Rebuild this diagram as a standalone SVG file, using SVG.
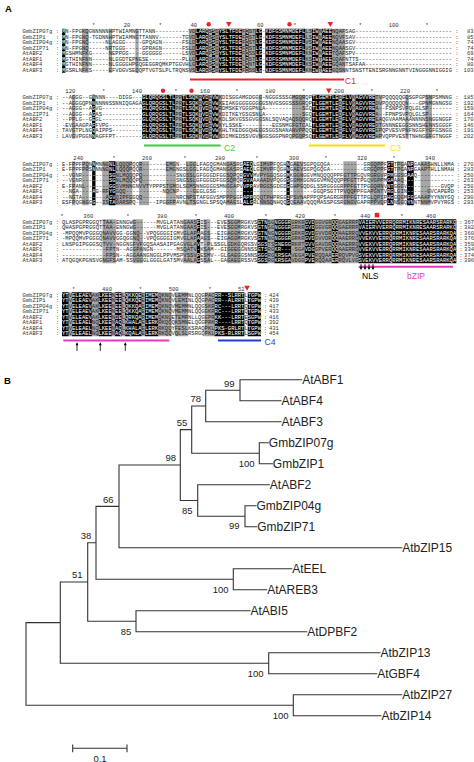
<svg xmlns="http://www.w3.org/2000/svg" xmlns:xlink="http://www.w3.org/1999/xlink" width="474" height="762" viewBox="0 0 474 762">
<style>
.nm{font-family:"Liberation Mono","DejaVu Sans Mono",monospace;font-size:5.5px;fill:#333}
.sq{font-family:"Liberation Mono","DejaVu Sans Mono",monospace;font-size:5.5px}
.rl{font-family:"Liberation Mono","DejaVu Sans Mono",monospace;font-size:5.5px;fill:#333;text-anchor:middle}
.ne{font-family:"Liberation Mono","DejaVu Sans Mono",monospace;font-size:5.5px;fill:#333;text-anchor:end}
.g{fill:#a6a6a6}
.pl{font-family:"Liberation Sans",Arial,sans-serif;font-size:9.5px;font-weight:bold;fill:#000}
.an{font-family:"Liberation Sans",Arial,sans-serif;font-size:8.5px}
.lf{font-family:"Liberation Sans",Arial,sans-serif;font-size:12px;fill:#222}
.bs{font-family:"Liberation Sans",Arial,sans-serif;font-size:9.5px;fill:#222;text-anchor:middle}
.br{fill:none;stroke:#333;stroke-width:1.1;stroke-linecap:square}
.red{fill:#e8262a}
</style>
<defs>
<path id="k1" d="M62 28.75h3.33v44h-3.33z M195.33 28.75h13.33v44h-13.33z M212 28.75h3.33v44h-3.33z M218.67 28.75h23.33v44h-23.33z M245.33 28.75h3.33v44h-3.33z M255.33 28.75h6.67v44h-6.67z M265.33 28.75h40v44h-40z M312 28.75h6.67v44h-6.67z M322 28.75h10v44h-10z"/>
<path id="k2" d="M92 94.75h3.33v44h-3.33z M142 94.75h33.33v44h-33.33z M182 94.75h16.67v44h-16.67z M202 94.75h6.67v44h-6.67z M212 94.75h6.67v44h-6.67z M312 94.75h26.67v44h-26.67z M342 94.75h10v44h-10z M355.33 94.75h20v44h-20z"/>
<path id="k3" d="M92.15 161.25h3.35v44h-3.35z M108.9 161.25h6.7v44h-6.7z M242.9 161.25h10.05v44h-10.05z M286.45 161.25h3.35v44h-3.35z M386.95 161.25h6.7v44h-6.7z M407.05 161.25h6.7v44h-6.7z"/>
<path id="k4" d="M196.8 219.25h3.37v44h-3.37z M257.46 219.25h10.11v44h-10.11z M274.31 219.25h16.85v44h-16.85z M304.64 219.25h10.11v44h-10.11z M331.6 219.25h6.74v44h-6.74z M358.56 219.25h97.73v44h-97.73z"/>
<path id="k5" d="M62 292.25h6.63v44h-6.63z M71.95 292.25h19.9v44h-19.9z M98.49 292.25h13.27v44h-13.27z M115.07 292.25h6.63v44h-6.63z M125.02 292.25h16.59v44h-16.59z M144.93 292.25h13.27v44h-13.27z M214.58 292.25h29.85v44h-29.85z M247.75 292.25h13.27v44h-13.27z"/>
<clipPath id="c1"><use xlink:href="#k1"/></clipPath>
<clipPath id="c2"><use xlink:href="#k2"/></clipPath>
<clipPath id="c3"><use xlink:href="#k3"/></clipPath>
<clipPath id="c4"><use xlink:href="#k4"/></clipPath>
<clipPath id="c5"><use xlink:href="#k5"/></clipPath>
<g id="t1" class="sq">
<text x="62" y="33.4" textLength="390" lengthAdjust="spacing">MN-FPGKQGNNNNNHPTWIAMNGTTANN----------VDLARQSSIYSLTFDEFQSTLG-KDFGSMNMDEFLLSIWNAEENQAFSAG-----------------------------</text>
<text x="62" y="38.9" textLength="390" lengthAdjust="spacing">MN-FPGNQ-TGDNNHPTWIAMNGTTANNV-------TGVDLARQSSIYSLTFDEFQSTLG-KDFGSMNMDEFLLSIWNAEENQVFSAV-----------------------------</text>
<text x="62" y="44.4" textLength="390" lengthAdjust="spacing">MN-FPGNQ-----NLAGGG-----GPQAGN------FSLDLARQSSIYSLTFDEFQSTLG-KDFGSMNMDEFLVSIWNAEENQAASGV-----------------------------</text>
<text x="62" y="49.9" textLength="390" lengthAdjust="spacing">MN-FPGNQ-----NRTGGG-----GPRAGN------FSLDLARQSSIYSLTFDEFQSTLG-KDFGSMNMDEFLVSIWNAEENQAASGV-----------------------------</text>
<text x="62" y="55.4" textLength="390" lengthAdjust="spacing">MGSHMNFKG-----NEPPGG----GGGGGG------LSVDLARQPSIYSLTFDEFQSSLG-KDFGSMNMDEFLKNIWNAEETQAFSPV-----------------------------</text>
<text x="62" y="60.9" textLength="390" lengthAdjust="spacing">MGTHINFNN-----NLGGDTEPNESE----------PLLGLARQSSVYSLTFDELQSTLG-KDFGSMNMDEFLKSIWTAEEGQAFNTTS----------------------------</text>
<text x="62" y="66.4" textLength="390" lengthAdjust="spacing">MGTHINFNN-----NLGGGGHPGQGEGGRQMKPTGGVHLGLARQSSVYSLTFDELQNTLG-KDFGSMNMDEFLKSIWNAEEGQANTSAFAA--------------------------</text>
<text x="62" y="71.9" textLength="390" lengthAdjust="spacing">MGSRLNFKS-----EFVDGVSEQQPTVGTSLPLTRQNSVSLARQSSIYSLTFDEFQSSLG-KDFGSMNMDEFLKNIWTAEEGQSNNTSNSTTENISRGNNGNNTVINGGGNNIGGIG</text>
</g>
<g id="t2" class="sq">
<text x="62" y="99.4" textLength="390" lengthAdjust="spacing">--AGGG--GNNNN----DIGG---GLQRQGSLTLPRTLSQKRVDEVWKDISGGAMGDGGG-NGGGSSSGMGQRQPTLGEMTLEDFLVKAGVVRETVPQQQQQGQSGPGPSNPSMNNG</text>
<text x="62" y="104.9" textLength="390" lengthAdjust="spacing">--AGGGQPNNNNNNSSNNIQGAGAGLQRQGSLTLPRTLSQKRVDEVWKEIAKGGGGGGGGGSNVGSGGSSSGRQPTLGEMTLEDFLVKAGVVREDVPQQQQQQN---GPNMGNNGSG</text>
<text x="62" y="110.4" textLength="390" lengthAdjust="spacing">--AGGG--AGVG------------GLQRQGSLTLPRTLSQKTVDEVWRDMSKEYGGGPNLA-----------SGQTLGEMTLEDFLVKAGVVREA--FSNPSVPQLGLSP-------</text>
<text x="62" y="115.9" textLength="390" lengthAdjust="spacing">--AGGG--AGAS------------GLQRQGSLTLPRTLSQKTVDEVWKDITKEYGSGSNLA-----------SGQTLGEMTLEDFLVKAGVVREA--FPNPSVPQLGLSP-------</text>
<text x="62" y="121.4" textLength="390" lengthAdjust="spacing">--PPLG--GEGL------------GLQRQGSLTLPRTLSQKTVDQVWKDLSKVGSSGVGGSNLSQVAQAQSQQRQTLGEMTLEEFLVRAGVVREEAQGVAAMAAANNNNSNGGNGGF</text>
<text x="62" y="126.9" textLength="390" lengthAdjust="spacing">-EVGAAGPAFFVPG----------GLQRQGSLTLPRTLSQKTVDEVWKYLSSKE---------EGSNMGFGTCALTLGEMTLEEFLVRAGVVREDTGNNNEEGGSNNSHENNSGGGF</text>
<text x="62" y="132.4" textLength="390" lengthAdjust="spacing">TAVGTPLNGQAIPPS---------GLQRQGSLTLPRTLSQKTVDEVWKHLTKEDGGQHEGGSGGSNANANVPPQQTLGEMTLEEFLVRAGVVREEPQPVESVPNFNGGFYGFGSNGG</text>
<text x="62" y="137.9" textLength="390" lengthAdjust="spacing">LAVGVPGGNNAGFFPT--------GLQRQGSLTLPRTLSQKTVDEVWKDIMKEDSSVGVNGGSGGPNRQPGQPSQTLGEMTLEDFLVKAGVVREHPVQPPVESTTNHNGGFGTNGGF</text>
</g>
<g id="t3" class="sq">
<text x="62" y="165.9" textLength="392" lengthAdjust="spacing">E-FPPFPQNNMNNGNLLQQQPQQR-------EMGN--LGGLFAGQGMANGASRGAEQLGIMVPFQGHNGAEVSGPQGQGA----------GRGQPPFGTTPGANPGAAASHNLLNMA</text>
<text x="62" y="171.4" textLength="392" lengthAdjust="spacing">E-FPPFPRSNNNNGNLLQQQPQQR-------EMGNGSLGGLFAGQGMANGASRGAEQLGIMVPFQGHNGAEVSGPQGQGA----------GRGQPPFGTTPGANPGAAPTHLLNMAH</text>
<text x="62" y="176.9" textLength="392" lengthAdjust="spacing">--VGNR--------SGNLMQQQPQ----------SNGSSLGFGGGDFGGSQPQRGVVMVPYGGQSGGMKGGNGGVMNQQQQPPFGTTPGQVRGRGVPPMGGSGAAQ-----------</text>
<text x="62" y="182.4" textLength="392" lengthAdjust="spacing">--VGNR--------SGNLMQQQPQ----------SNGSSLGFGGGDFGGSQPQRGVAAAAADVPQGGSGGMKGGNGGVMNQQQPPFGTTPGQVGPPMGAAAQ---------------</text>
<text x="62" y="187.9" textLength="392" lengthAdjust="spacing">E-FPANL-------GGSVMNNGNVVTYPPPSTGMDLSGMSNNGGGGSMNGGAPVVPPAVRGGSGDGDGGHPGQDGLSSRGGGGRPPFGTTPGGQRNVNTGGGV----------GVQP</text>
<text x="62" y="193.4" textLength="392" lengthAdjust="spacing">--NGA----AG-RFYGGQQ-----------NQCNP----GEGLGSG-----------------------------GGQPSGTTPVQQPPFGAPGNTVRGLGIN------GVCAPERD</text>
<text x="62" y="198.9" textLength="392" lengthAdjust="spacing">--NGTA-------AGVQIPFGGQQ----------NRCNPSTAFGGVSMPPPGGFAPPQQQTPHPRGGIPSVNAPPPQPSAGRGRPPFGTTPGLQPIPHGGQGMFGGAAAPYYNNYGQ</text>
<text x="62" y="204.4" textLength="392" lengthAdjust="spacing">ESFPQGNGGG--ISTADARSPQ------IPGGFPAVNLTSGNGLSPSQAMAGSLALGRLNNSQNHQQGQEAAVQQQMASSPGSRGNGVGAPRPPVQPLNNSGQYNNTNNMVPVYRGS</text>
</g>
<g id="t4" class="sq">
<text x="62" y="223.9" textLength="394.3" lengthAdjust="spacing">QLASPGPRGGQTTAA-ENNGWG------MVGLATANGAASFIS---EVESGGMRGKVSGTNSGNGGGRGRKRGVDGGVGRQQGAERRPVAIERVVERRQRRMIKNRESAARSRARKQ</text>
<text x="62" y="229.4" textLength="394.3" lengthAdjust="spacing">QHASPGPRGGQTTAA-ENNGWG------MVGLATANGAASFIS---EVESGGMRGKVSGTNSGNGGGRGRKRGVDGGVGRQQGAERRPVAIERVVERRQRRMIKNRESAARSRARKQ</text>
<text x="62" y="234.9" textLength="394.3" lengthAdjust="spacing">-MPQQMVPGGGQNAVVGG-GGNQ--VPQGGGGIGMVGLAPAAGS--EIGAGGMRGKVSGTNNGNGGGRGRKRGVDGVVDRQQAAERRQVVEKVVERRQRRMIKNRESAARSRARKQA</text>
<text x="62" y="240.4" textLength="394.3" lengthAdjust="spacing">-MPQQMVPGGGQNAVVGGQGGNQ--VPQGGGGIGMVGLAPAAGS--EIGAGGMRGKVSGTNNGNGGGRGRKRGVDGVVDRQQAAERRQVVEKVVERRQRRMIKNRESAARSRARKQA</text>
<text x="62" y="245.9" textLength="394.3" lengthAdjust="spacing">LNSPGIPGGGSQTVV-NGGNGFVFGQSAASAIPGAGVGLAVT-PLSSGLGDKGQRGSVSGSTSGNEGGRKRTGVVGAVDRQQAAERRQVVEKVVERRQRRMIKNRESAARSRARKQA</text>
<text x="62" y="251.4" textLength="394.3" lengthAdjust="spacing">-------------FPTN--AGGPANGN-------MSQATV-KSAM--GIGGEGGNNSSGTSRGKR----SGAVDGGPVERQQAAERRQVVEKVVERRQRRMIKNRESAARSRARKQA</text>
<text x="62" y="256.9" textLength="394.3" lengthAdjust="spacing">-------------FPSN--AGGAANGNGGLPPVMSPVSSVPESMV--GLGAEGGSNNSSGGRGKRSGAVEGAPVERQQAAERRQVPVGSVEKVVERRQRRMIKNRESAARSRARKQA</text>
<text x="62" y="262.4" textLength="394.3" lengthAdjust="spacing">ATQGQKPGNSVGNGFSAM-SSVGGGLGGGLGATSMVAALAGSSAL--GAGAEGRSSVSSGSRGKRSGAVDGGPVERQQAAERRQVLVGSVEKVVERRQRRMIKNRESAARSRARKQA</text>
</g>
<g id="t5" class="sq">
<text x="62" y="296.9" textLength="199" lengthAdjust="spacing">YTVELEAEVAKLKEENEELQKKQEEIMEMQKNQVLEMMNLQQGPACRR--SLRRTLTGPW</text>
<text x="62" y="302.4" textLength="199" lengthAdjust="spacing">YTVELEAEVAKLKEENEELQKKQEEIMEMQKNQVLEMINLQQGPACRR--ALRRTLTGPW</text>
<text x="62" y="307.9" textLength="199" lengthAdjust="spacing">YTVELEAEVAKLKEENEELQKKQAEIMEMQKNQVMEMMNLQQGSKRRC---LRRTQTGPW</text>
<text x="62" y="313.4" textLength="199" lengthAdjust="spacing">YTVELEAEVAKLKEENEELQKKQAEIMEMQKNQVMEMMNLQQGGKRRC---LRRTQTGPW</text>
<text x="62" y="318.9" textLength="199" lengthAdjust="spacing">YTVELEAEVAKLKEENDELQRKQARIMEMQKNQETEMRNLLQGGPRKK---LRRTESGPW</text>
<text x="62" y="324.4" textLength="199" lengthAdjust="spacing">YTVELEAELNQLKEENAQLKHALAELERKRKQQQKSMNELQGGPRKR----LRRTQTGPW</text>
<text x="62" y="329.9" textLength="199" lengthAdjust="spacing">YTVELEAELNQLKEENAQLKHALAELERKRKQQYFESLKSRAQPKLPKS-GRLRTLTGPW</text>
<text x="62" y="335.4" textLength="199" lengthAdjust="spacing">YTVELEAELNQLKEENAQLKQALAELERKRKQQVQLSLRSRGQPKLPKS-RLRRTLSGPW</text>
</g>
</defs>

<rect width="474" height="762" fill="#fff"/>

<g id="panel-A">
<text class="pl" x="5" y="11.8">A</text>

<g id="block1">
<path class="g" d="M82 28.75h6.67v44h-6.67z M108.67 28.75h3.33v44h-3.33z M135.33 28.75h3.33v44h-3.33z M188.67 28.75h6.67v44h-6.67z M208.67 28.75h3.33v44h-3.33z M215.33 28.75h3.33v44h-3.33z M242 28.75h3.33v44h-3.33z M248.67 28.75h6.67v44h-6.67z M305.33 28.75h6.67v44h-6.67z M318.67 28.75h3.33v44h-3.33z M332 28.75h13.33v44h-13.33z"/>
<use xlink:href="#k1" fill="#000"/>
<use xlink:href="#t1" fill="#1a1a1a"/>
<use xlink:href="#t1" fill="#fff" clip-path="url(#c1)"/>
<text class="rl" x="93.7" y="26.9">*</text><text class="rl" x="127" y="26.9">20</text><text class="rl" x="160.3" y="26.9">*</text><text class="rl" x="193.7" y="26.9">40</text><text class="rl" x="260.3" y="26.9">60</text><text class="rl" x="295" y="26.9">*</text><text class="rl" x="360.3" y="26.9">*</text><text class="rl" x="393.7" y="26.9">100</text><text class="rl" x="427" y="26.9">*</text>
<circle class="red" cx="208.7" cy="24.3" r="2.2"/>
<path class="red" d="M226 22h5.6l-2.8 5z"/>
<circle class="red" cx="289.5" cy="24.3" r="2.2"/>
<path class="red" d="M327.5 22h5.6l-2.8 5z"/>
<text class="nm" x="22.5" y="33.4">GmbZIP07g</text><text class="nm" x="22.5" y="38.9">GmbZIP1</text><text class="nm" x="22.5" y="44.4">GmbZIP04g</text><text class="nm" x="22.5" y="49.9">GmbZIP71</text><text class="nm" x="22.5" y="55.4">AtABF2</text><text class="nm" x="22.5" y="60.9">AtABF1</text><text class="nm" x="22.5" y="66.4">AtABF4</text><text class="nm" x="22.5" y="71.9">AtABF3</text>
<text class="rl" x="57.5" y="33.4">:</text><text class="rl" x="57.5" y="38.9">:</text><text class="rl" x="57.5" y="44.4">:</text><text class="rl" x="57.5" y="49.9">:</text><text class="rl" x="57.5" y="55.4">:</text><text class="rl" x="57.5" y="60.9">:</text><text class="rl" x="57.5" y="66.4">:</text><text class="rl" x="57.5" y="71.9">:</text>
<text class="rl" x="457" y="33.4">:</text><text class="rl" x="457" y="38.9">:</text><text class="rl" x="457" y="44.4">:</text><text class="rl" x="457" y="49.9">:</text><text class="rl" x="457" y="55.4">:</text><text class="rl" x="457" y="60.9">:</text><text class="rl" x="457" y="66.4">:</text><text class="rl" x="457" y="71.9">:</text>
<text class="ne" x="473.5" y="33.4">83</text><text class="ne" x="473.5" y="38.9">85</text><text class="ne" x="473.5" y="44.4">74</text><text class="ne" x="473.5" y="49.9">74</text><text class="ne" x="473.5" y="55.4">69</text><text class="ne" x="473.5" y="60.9">74</text><text class="ne" x="473.5" y="66.4">80</text><text class="ne" x="473.5" y="71.9">103</text>
<path d="M190 79.5H344" stroke="#e8262a" stroke-width="2"/>
<text class="an" x="345" y="84" fill="#e8262a">C1</text>
</g>

<g id="block2">
<path class="g" d="M72 94.75h3.33v44h-3.33z M175.33 94.75h6.67v44h-6.67z M198.67 94.75h3.33v44h-3.33z M208.67 94.75h3.33v44h-3.33z M218.67 94.75h3.33v44h-3.33z M258.67 94.75h3.33v44h-3.33z M292 94.75h13.33v44h-13.33z M338.67 94.75h3.33v44h-3.33z M352 94.75h3.33v44h-3.33z M375.33 94.75h6.67v44h-6.67z M405.33 94.75h3.33v44h-3.33z M425.33 94.75h6.67v44h-6.67z"/>
<use xlink:href="#k2" fill="#000"/>
<use xlink:href="#t2" fill="#1a1a1a"/>
<use xlink:href="#t2" fill="#fff" clip-path="url(#c2)"/>
<text class="rl" x="70.3" y="93.4">120</text><text class="rl" x="103.7" y="93.4">*</text><text class="rl" x="137" y="93.4">140</text><text class="rl" x="176" y="93.4">*</text><text class="rl" x="205" y="93.4">160</text><text class="rl" x="237" y="93.4">*</text><text class="rl" x="270.3" y="93.4">180</text><text class="rl" x="303.7" y="93.4">*</text><text class="rl" x="339" y="93.4">200</text><text class="rl" x="372" y="93.4">*</text><text class="rl" x="405" y="93.4">220</text><text class="rl" x="437" y="93.4">*</text>
<circle class="red" cx="163" cy="90.8" r="2.2"/>
<circle class="red" cx="191.5" cy="90.8" r="2.2"/>
<path class="red" d="M326 88.5h5.6l-2.8 5z"/>
<text class="nm" x="22.5" y="99.4">GmbZIP07g</text><text class="nm" x="22.5" y="104.9">GmbZIP1</text><text class="nm" x="22.5" y="110.4">GmbZIP04g</text><text class="nm" x="22.5" y="115.9">GmbZIP71</text><text class="nm" x="22.5" y="121.4">AtABF2</text><text class="nm" x="22.5" y="126.9">AtABF1</text><text class="nm" x="22.5" y="132.4">AtABF4</text><text class="nm" x="22.5" y="137.9">AtABF3</text>
<text class="rl" x="57.5" y="99.4">:</text><text class="rl" x="57.5" y="104.9">:</text><text class="rl" x="57.5" y="110.4">:</text><text class="rl" x="57.5" y="115.9">:</text><text class="rl" x="57.5" y="121.4">:</text><text class="rl" x="57.5" y="126.9">:</text><text class="rl" x="57.5" y="132.4">:</text><text class="rl" x="57.5" y="137.9">:</text>
<text class="rl" x="457" y="99.4">:</text><text class="rl" x="457" y="104.9">:</text><text class="rl" x="457" y="110.4">:</text><text class="rl" x="457" y="115.9">:</text><text class="rl" x="457" y="121.4">:</text><text class="rl" x="457" y="126.9">:</text><text class="rl" x="457" y="132.4">:</text><text class="rl" x="457" y="137.9">:</text>
<text class="ne" x="473.5" y="99.4">185</text><text class="ne" x="473.5" y="104.9">192</text><text class="ne" x="473.5" y="110.4">159</text><text class="ne" x="473.5" y="115.9">164</text><text class="ne" x="473.5" y="121.4">170</text><text class="ne" x="473.5" y="126.9">146</text><text class="ne" x="473.5" y="132.4">191</text><text class="ne" x="473.5" y="137.9">202</text>
<path d="M144 145.5H220.7" stroke="#3ccc3c" stroke-width="2"/>
<text class="an" x="224" y="150.5" fill="#3ccc3c">C2</text>
<path d="M308.7 145.5H385.3" stroke="#f2e40a" stroke-width="2"/>
<text class="an" x="390" y="150.5" fill="#f2e40a">C3</text>
</g>

<g id="block3">
<path class="g" d="M72.05 161.25h3.35v44h-3.35z M82.1 161.25h6.7v44h-6.7z M102.2 161.25h6.7v44h-6.7z M115.6 161.25h16.75v44h-16.75z M139.05 161.25h10.05v44h-10.05z M165.85 161.25h10.05v44h-10.05z M185.95 161.25h10.05v44h-10.05z M226.15 161.25h10.05v44h-10.05z M259.65 161.25h13.4v44h-13.4z M293.15 161.25h10.05v44h-10.05z M343.4 161.25h13.4v44h-13.4z M370.2 161.25h13.4v44h-13.4z M397 161.25h6.7v44h-6.7z M420.45 161.25h10.05v44h-10.05z"/>
<use xlink:href="#k3" fill="#000"/>
<use xlink:href="#t3" fill="#1a1a1a"/>
<use xlink:href="#t3" fill="#fff" clip-path="url(#c3)"/>
<text class="rl" x="78.3" y="159.9">240</text><text class="rl" x="114" y="159.9">*</text><text class="rl" x="147" y="159.9">260</text><text class="rl" x="185" y="159.9">*</text><text class="rl" x="220" y="159.9">280</text><text class="rl" x="257" y="159.9">*</text><text class="rl" x="294" y="159.9">300</text><text class="rl" x="326" y="159.9">*</text><text class="rl" x="362" y="159.9">320</text><text class="rl" x="394" y="159.9">*</text><text class="rl" x="430" y="159.9">340</text>
<text class="nm" x="22.5" y="165.9">GmbZIP07g</text><text class="nm" x="22.5" y="171.4">GmbZIP1</text><text class="nm" x="22.5" y="176.9">GmbZIP04g</text><text class="nm" x="22.5" y="182.4">GmbZIP71</text><text class="nm" x="22.5" y="187.9">AtABF2</text><text class="nm" x="22.5" y="193.4">AtABF1</text><text class="nm" x="22.5" y="198.9">AtABF4</text><text class="nm" x="22.5" y="204.4">AtABF3</text>
<text class="rl" x="57.5" y="165.9">:</text><text class="rl" x="57.5" y="171.4">:</text><text class="rl" x="57.5" y="176.9">:</text><text class="rl" x="57.5" y="182.4">:</text><text class="rl" x="57.5" y="187.9">:</text><text class="rl" x="57.5" y="193.4">:</text><text class="rl" x="57.5" y="198.9">:</text><text class="rl" x="57.5" y="204.4">:</text>
<text class="rl" x="458.5" y="165.9">:</text><text class="rl" x="458.5" y="171.4">:</text><text class="rl" x="458.5" y="176.9">:</text><text class="rl" x="458.5" y="182.4">:</text><text class="rl" x="458.5" y="187.9">:</text><text class="rl" x="458.5" y="193.4">:</text><text class="rl" x="458.5" y="198.9">:</text><text class="rl" x="458.5" y="204.4">:</text>
<text class="ne" x="473.5" y="165.9">270</text><text class="ne" x="473.5" y="171.4">283</text><text class="ne" x="473.5" y="176.9">250</text><text class="ne" x="473.5" y="182.4">263</text><text class="ne" x="473.5" y="187.9">250</text><text class="ne" x="473.5" y="193.4">253</text><text class="ne" x="473.5" y="198.9">290</text><text class="ne" x="473.5" y="204.4">293</text>
</g>

<g id="block4">
<path class="g" d="M102.44 219.25h13.48v44h-13.48z M132.77 219.25h10.11v44h-10.11z M183.32 219.25h13.48v44h-13.48z M203.54 219.25h6.74v44h-6.74z M227.13 219.25h13.48v44h-13.48z M267.57 219.25h6.74v44h-6.74z M291.16 219.25h13.48v44h-13.48z M314.75 219.25h16.85v44h-16.85z M338.34 219.25h20.22v44h-20.22z"/>
<use xlink:href="#k4" fill="#000"/>
<use xlink:href="#t4" fill="#1a1a1a"/>
<use xlink:href="#t4" fill="#fff" clip-path="url(#c4)"/>
<text class="rl" x="62" y="217.9">*</text><text class="rl" x="88.3" y="217.9">360</text><text class="rl" x="128" y="217.9">*</text><text class="rl" x="162" y="217.9">380</text><text class="rl" x="196" y="217.9">*</text><text class="rl" x="229" y="217.9">400</text><text class="rl" x="266" y="217.9">*</text><text class="rl" x="300" y="217.9">420</text><text class="rl" x="335" y="217.9">*</text><text class="rl" x="365.3" y="217.9">440</text><text class="rl" x="402" y="217.9">*</text><text class="rl" x="431" y="217.9">460</text>
<rect class="red" x="374.7" y="212.8" width="4.6" height="4.6"/>
<text class="nm" x="22.5" y="223.9">GmbZIP07g</text><text class="nm" x="22.5" y="229.4">GmbZIP1</text><text class="nm" x="22.5" y="234.9">GmbZIP04g</text><text class="nm" x="22.5" y="240.4">GmbZIP71</text><text class="nm" x="22.5" y="245.9">AtABF2</text><text class="nm" x="22.5" y="251.4">AtABF1</text><text class="nm" x="22.5" y="256.9">AtABF4</text><text class="nm" x="22.5" y="262.4">AtABF3</text>
<text class="rl" x="57.5" y="223.9">:</text><text class="rl" x="57.5" y="229.4">:</text><text class="rl" x="57.5" y="234.9">:</text><text class="rl" x="57.5" y="240.4">:</text><text class="rl" x="57.5" y="245.9">:</text><text class="rl" x="57.5" y="251.4">:</text><text class="rl" x="57.5" y="256.9">:</text><text class="rl" x="57.5" y="262.4">:</text>
<text class="rl" x="461" y="223.9">:</text><text class="rl" x="461" y="229.4">:</text><text class="rl" x="461" y="234.9">:</text><text class="rl" x="461" y="240.4">:</text><text class="rl" x="461" y="245.9">:</text><text class="rl" x="461" y="251.4">:</text><text class="rl" x="461" y="256.9">:</text><text class="rl" x="461" y="262.4">:</text>
<text class="ne" x="474" y="223.9">367</text><text class="ne" x="474" y="229.4">382</text><text class="ne" x="474" y="234.9">360</text><text class="ne" x="474" y="240.4">376</text><text class="ne" x="474" y="245.9">359</text><text class="ne" x="474" y="251.4">334</text><text class="ne" x="474" y="256.9">374</text><text class="ne" x="474" y="262.4">396</text>
<path d="M358.7 266.8H453" stroke="#e23cc0" stroke-width="2"/>
<path d="M361 264.3v3.3M365 264.3v3.3M369 264.3v3.3M373 264.3v3.3" stroke="#000" stroke-width="1"/>
<path d="M359.4 267.2h3.2l-1.6 2.8zM363.4 267.2h3.2l-1.6 2.8zM367.4 267.2h3.2l-1.6 2.8zM371.4 267.2h3.2l-1.6 2.8z" fill="#000"/>
<text class="an" x="362" y="278.5" fill="#000" font-size="8">NLS</text>
<text class="an" x="407" y="278.5" fill="#e23cc0" font-size="8">bZIP</text>
</g>

<g id="block5">
<path class="g" d="M68.63 292.25h3.32v44h-3.32z M91.85 292.25h6.63v44h-6.63z M111.76 292.25h3.32v44h-3.32z M121.7 292.25h3.32v44h-3.32z M141.61 292.25h3.32v44h-3.32z M158.19 292.25h13.27v44h-13.27z M174.78 292.25h13.27v44h-13.27z M204.63 292.25h9.95v44h-9.95z"/>
<use xlink:href="#k5" fill="#000"/>
<use xlink:href="#t5" fill="#1a1a1a"/>
<use xlink:href="#t5" fill="#fff" clip-path="url(#c5)"/>
<text class="rl" x="73.7" y="290.9">*</text><text class="rl" x="107" y="290.9">480</text><text class="rl" x="140.3" y="290.9">*</text><text class="rl" x="173.7" y="290.9">500</text><text class="rl" x="210" y="290.9">*</text><text class="ne" x="244.5" y="290.9">52</text>
<path class="red" d="M244.2 285.8h5.6l-2.8 5z"/>
<text class="nm" x="22.5" y="296.9">GmbZIP07g</text><text class="nm" x="22.5" y="302.4">GmbZIP1</text><text class="nm" x="22.5" y="307.9">GmbZIP04g</text><text class="nm" x="22.5" y="313.4">GmbZIP71</text><text class="nm" x="22.5" y="318.9">AtABF2</text><text class="nm" x="22.5" y="324.4">AtABF1</text><text class="nm" x="22.5" y="329.9">AtABF4</text><text class="nm" x="22.5" y="335.4">AtABF3</text>
<text class="rl" x="57.5" y="296.9">:</text><text class="rl" x="57.5" y="302.4">:</text><text class="rl" x="57.5" y="307.9">:</text><text class="rl" x="57.5" y="313.4">:</text><text class="rl" x="57.5" y="318.9">:</text><text class="rl" x="57.5" y="324.4">:</text><text class="rl" x="57.5" y="329.9">:</text><text class="rl" x="57.5" y="335.4">:</text>
<text class="rl" x="265.5" y="296.9">:</text><text class="rl" x="265.5" y="302.4">:</text><text class="rl" x="265.5" y="307.9">:</text><text class="rl" x="265.5" y="313.4">:</text><text class="rl" x="265.5" y="318.9">:</text><text class="rl" x="265.5" y="324.4">:</text><text class="rl" x="265.5" y="329.9">:</text><text class="rl" x="265.5" y="335.4">:</text>
<text class="nm" x="269" y="296.9">424</text><text class="nm" x="269" y="302.4">439</text><text class="nm" x="269" y="307.9">417</text><text class="nm" x="269" y="313.4">433</text><text class="nm" x="269" y="318.9">416</text><text class="nm" x="269" y="324.4">392</text><text class="nm" x="269" y="329.9">431</text><text class="nm" x="269" y="335.4">454</text>
<path d="M63.3 340.5H169.3" stroke="#e23cc0" stroke-width="2"/>
<path d="M218 340.5H261" stroke="#1f3fd0" stroke-width="2"/>
<text class="an" x="264.5" y="345" fill="#1f3fd0">C4</text>
<path d="M77 343.5V351M100.3 343.5V351M125.3 343.5V351" stroke="#000" stroke-width="0.8"/>
<path d="M75.6 345.3L77 342.3L78.4 345.3zM98.9 345.3L100.3 342.3L101.7 345.3zM123.9 345.3L125.3 342.3L126.7 345.3z" fill="#000"/>
</g>
</g>

<g id="panel-B">
<text class="pl" x="4" y="384">B</text>
<g id="tree-branches">
<path class="br" d="M240 379.7H301.7M240 400.7H281M240 379.7V400.7M205.7 390.2H240M205.7 421.7H281M205.7 390.2V421.7M259.3 442.7H268.3M259.3 463.7H272.3M259.3 442.7V463.7M191.7 405.95H205.7M191.7 453.2H259.3M191.7 405.95V453.2M245 505.7H256M245 526.7H256.7M245 505.7V526.7M197.7 484.7H269.3M197.7 516.2H245M197.7 484.7V516.2M180.3 429.6H191.7M180.3 500.45H197.7M180.3 429.6V500.45M119 465H180.3M119 547.7H401.7M119 465V547.7M233.3 568.7H291.7M233.3 589.7H266.7M233.3 568.7V589.7M96 506.35H119M96 579.2H233.3M96 506.35V579.2M136 610.7H250M136 631.7H306.7M136 610.7V631.7M87.7 542.8H96M87.7 621.2H136M87.7 542.8V621.2M268.7 652.7H380M268.7 673.7H376.7M268.7 652.7V673.7M60.3 582H87.7M60.3 663.2H268.7M60.3 582V663.2M293.3 694.7H401.7M293.3 715.7H381M293.3 694.7V715.7M26 622.6H60.3M26 705.2H293.3M26 622.6V705.2"/>
</g>
<g id="bootstrap">
<text class="bs" x="229.3" y="386.7">99</text>
<text class="bs" x="195.7" y="402">78</text>
<text class="bs" x="182" y="426">55</text>
<text class="bs" x="170.7" y="461">98</text>
<text class="bs" x="246.7" y="466.7">100</text>
<text class="bs" x="187.3" y="514">85</text>
<text class="bs" x="234.3" y="529">99</text>
<text class="bs" x="108.3" y="502.7">66</text>
<text class="bs" x="86" y="539">38</text>
<text class="bs" x="77.3" y="577.7">51</text>
<text class="bs" x="220.7" y="592.7">100</text>
<text class="bs" x="126" y="635">85</text>
<text class="bs" x="255.7" y="676.7">100</text>
<text class="bs" x="280.7" y="718.7">100</text>
</g>
<g id="leaf-AtABF1"><text class="lf" x="302.2" y="384">AtABF1</text></g>
<g id="leaf-AtABF4"><text class="lf" x="281.5" y="405">AtABF4</text></g>
<g id="leaf-AtABF3"><text class="lf" x="281.5" y="426">AtABF3</text></g>
<g id="leaf-GmbZIP07g"><text class="lf" x="268.8" y="447">GmbZIP07g</text></g>
<g id="leaf-GmbZIP1"><text class="lf" x="272.8" y="468">GmbZIP1</text></g>
<g id="leaf-AtABF2"><text class="lf" x="269.8" y="489">AtABF2</text></g>
<g id="leaf-GmbZIP04g"><text class="lf" x="256.5" y="510">GmbZIP04g</text></g>
<g id="leaf-GmbZIP71"><text class="lf" x="257.2" y="531">GmbZIP71</text></g>
<g id="leaf-AtbZIP15"><text class="lf" x="402.2" y="552">AtbZIP15</text></g>
<g id="leaf-AtEEL"><text class="lf" x="292.2" y="573">AtEEL</text></g>
<g id="leaf-AtAREB3"><text class="lf" x="267.2" y="594">AtAREB3</text></g>
<g id="leaf-AtABI5"><text class="lf" x="250.5" y="615">AtABI5</text></g>
<g id="leaf-AtDPBF2"><text class="lf" x="307.2" y="636">AtDPBF2</text></g>
<g id="leaf-AtbZIP13"><text class="lf" x="380.5" y="657">AtbZIP13</text></g>
<g id="leaf-AtGBF4"><text class="lf" x="377.2" y="678">AtGBF4</text></g>
<g id="leaf-AtbZIP27"><text class="lf" x="402.2" y="699">AtbZIP27</text></g>
<g id="leaf-AtbZIP14"><text class="lf" x="381.5" y="720">AtbZIP14</text></g>
<g id="scale-bar">
<path class="br" d="M72.7 748.3H127M72.7 745V751.7M127 745V751.7"/>
<text class="bs" x="100" y="761.5" font-size="10">0.1</text>
</g>
</g>
</svg>
